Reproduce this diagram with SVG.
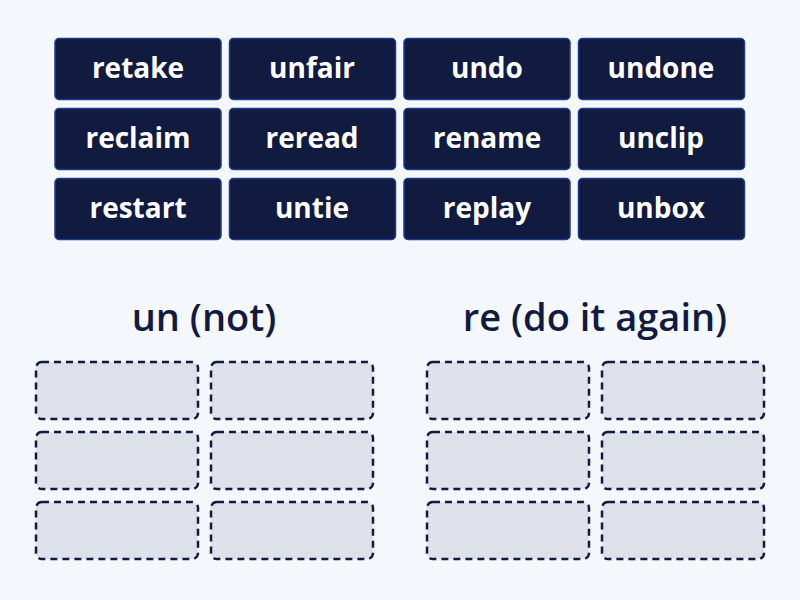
<svg xmlns="http://www.w3.org/2000/svg" width="800" height="600" viewBox="0 0 800 600">
<style>
.t rect{fill:#111a3f;stroke:#1e3a8a;stroke-width:1.5}
.t text{fill:#fff;font-family:"Open Sans",sans-serif;font-weight:700;font-size:28px;text-anchor:middle}
.s{fill:#dfe1ea;stroke:#111a3f;stroke-width:2.5;stroke-dasharray:7 5}
.h{fill:#111a3f;font-family:"Open Sans",sans-serif;font-weight:600;font-size:38px;text-anchor:middle}
</style>
<rect width="800" height="600" fill="#f4f7fb"/>
<g id="n1" class="t"><rect x="55" y="38.5" width="166" height="61" rx="4"/><text x="138" y="78">retake</text></g>
<g id="n2" class="t"><rect x="229.5" y="38.5" width="166" height="61" rx="4"/><text x="312" y="78">unfair</text></g>
<g id="n3" class="t"><rect x="404" y="38.5" width="166" height="61" rx="4"/><text x="487" y="78">undo</text></g>
<g id="n4" class="t"><rect x="578.5" y="38.5" width="166" height="61" rx="4"/><text x="661" y="78">undone</text></g>
<g id="n5" class="t"><rect x="55" y="108.5" width="166" height="61" rx="4"/><text x="138" y="148">reclaim</text></g>
<g id="n6" class="t"><rect x="229.5" y="108.5" width="166" height="61" rx="4"/><text x="312" y="148">reread</text></g>
<g id="n7" class="t"><rect x="404" y="108.5" width="166" height="61" rx="4"/><text x="487" y="148">rename</text></g>
<g id="n8" class="t"><rect x="578.5" y="108.5" width="166" height="61" rx="4"/><text x="661" y="148">unclip</text></g>
<g id="n9" class="t"><rect x="55" y="178.5" width="166" height="61" rx="4"/><text x="138" y="218">restart</text></g>
<g id="n10" class="t"><rect x="229.5" y="178.5" width="166" height="61" rx="4"/><text x="312" y="218">untie</text></g>
<g id="n11" class="t"><rect x="404" y="178.5" width="166" height="61" rx="4"/><text x="487" y="218">replay</text></g>
<g id="n12" class="t"><rect x="578.5" y="178.5" width="166" height="61" rx="4"/><text x="661" y="218">unbox</text></g>
<g id="un">
<text class="h" x="204" y="331">un (not)</text>
<rect class="s" x="36" y="362" width="162" height="57" rx="6"/>
<rect class="s" x="211" y="362" width="162" height="57" rx="6"/>
<rect class="s" x="36" y="432" width="162" height="57" rx="6"/>
<rect class="s" x="211" y="432" width="162" height="57" rx="6"/>
<rect class="s" x="36" y="502" width="162" height="57" rx="6"/>
<rect class="s" x="211" y="502" width="162" height="57" rx="6"/>
</g>
<g id="re">
<text class="h" x="595" y="331">re (do it again)</text>
<rect class="s" x="427" y="362" width="162" height="57" rx="6"/>
<rect class="s" x="602" y="362" width="162" height="57" rx="6"/>
<rect class="s" x="427" y="432" width="162" height="57" rx="6"/>
<rect class="s" x="602" y="432" width="162" height="57" rx="6"/>
<rect class="s" x="427" y="502" width="162" height="57" rx="6"/>
<rect class="s" x="602" y="502" width="162" height="57" rx="6"/>
</g>
<g id="connectors"/>
</svg>
